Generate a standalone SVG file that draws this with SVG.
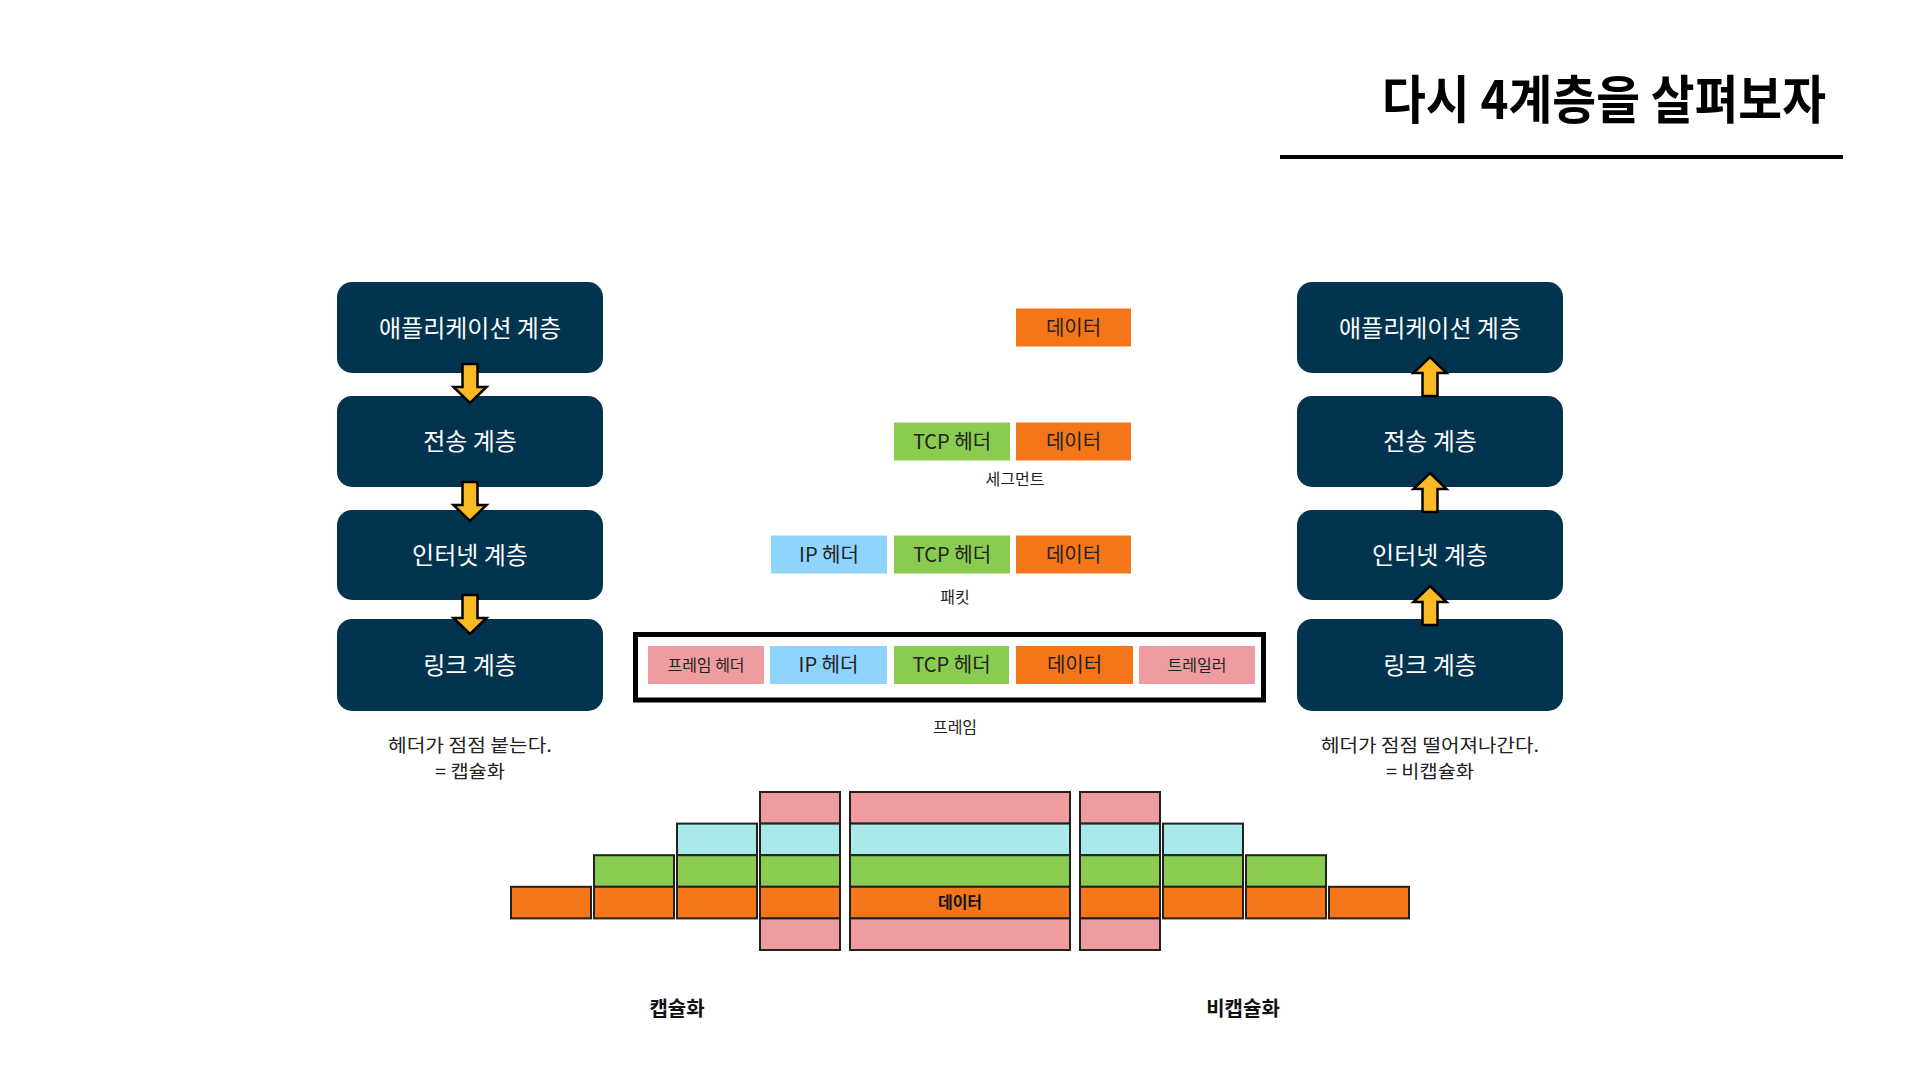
<svg xmlns="http://www.w3.org/2000/svg" xmlns:xlink="http://www.w3.org/1999/xlink" width="1920" height="1080" viewBox="0 0 1920 1080">
<style>
text{font-family:"Noto Sans CJK KR","Noto Sans",sans-serif;}
.layer{fill:#03344F;}
.lt{fill:#FFFFFF;font-size:24px;text-anchor:middle;}
.pk{font-size:20px;fill:#222222;text-anchor:middle;}
.pks{font-size:16px;fill:#222222;text-anchor:middle;}
.lbl{font-size:16px;fill:#222222;text-anchor:middle;}
.cap{font-size:18px;fill:#222222;text-anchor:middle;}
.bl{font-size:20px;font-weight:bold;fill:#111111;text-anchor:middle;}
.arrow{fill:#FBBA22;stroke:#000000;stroke-width:2.5;stroke-linejoin:miter;}
.or{fill:#F47619;}
.gr{fill:#8ACC4F;}
.bu{fill:#8FD4FC;}
.pi{fill:#EE9C9F;}
.c{stroke:#222222;stroke-width:2;}
.cor{fill:#F47619;}
.cgr{fill:#8ACC4F;}
.ccy{fill:#A8E8E8;}
.cpi{fill:#EE9C9F;}
</style>
<defs>
<path id="down" class="arrow" d="M-7.5,0 H7.5 V23 H16.5 L0,39 L-16.5,23 H-7.5 Z"/>
<path id="up" class="arrow" d="M0,0 L16.5,16 H7.5 V39 H-7.5 V16 H-16.5 Z"/>
</defs>
<rect width="1920" height="1080" fill="#FFFFFF"/>

<g id="title">
<text x="1826" y="119" font-size="52" font-weight="bold" fill="#000000" text-anchor="end" textLength="444" lengthAdjust="spacingAndGlyphs">다시 4계층을 살펴보자</text>
<rect x="1280" y="155" width="563" height="4" fill="#000000"/>
</g>

<g id="left-app"><rect class="layer" x="337" y="282" width="266" height="91" rx="15"/><text class="lt" x="470" y="337">애플리케이션 계층</text></g>
<g id="left-transport"><rect class="layer" x="337" y="396" width="266" height="91" rx="15"/><text class="lt" x="470" y="450">전송 계층</text></g>
<g id="left-internet"><rect class="layer" x="337" y="510" width="266" height="90" rx="15"/><text class="lt" x="470" y="564">인터넷 계층</text></g>
<g id="left-link"><rect class="layer" x="337" y="619" width="266" height="92" rx="15"/><text class="lt" x="470" y="674">링크 계층</text></g>

<g id="right-app"><rect class="layer" x="1297" y="282" width="266" height="91" rx="15"/><text class="lt" x="1430" y="337">애플리케이션 계층</text></g>
<g id="right-transport"><rect class="layer" x="1297" y="396" width="266" height="91" rx="15"/><text class="lt" x="1430" y="450">전송 계층</text></g>
<g id="right-internet"><rect class="layer" x="1297" y="510" width="266" height="90" rx="15"/><text class="lt" x="1430" y="564">인터넷 계층</text></g>
<g id="right-link"><rect class="layer" x="1297" y="619" width="266" height="92" rx="15"/><text class="lt" x="1430" y="674">링크 계층</text></g>

<g id="connectors">
<use xlink:href="#down" href="#down" x="470" y="364"/>
<use xlink:href="#down" href="#down" x="470" y="482"/>
<use xlink:href="#down" href="#down" x="470" y="595"/>
<use xlink:href="#up" href="#up" x="1430" y="357"/>
<use xlink:href="#up" href="#up" x="1430" y="473"/>
<use xlink:href="#up" href="#up" x="1430" y="586"/>
</g>

<g id="data-row">
<rect class="or" x="1016" y="308.5" width="115" height="38"/><text class="pk" x="1073.5" y="334.5">데이터</text>
</g>

<g id="segment-row">
<rect class="gr" x="894" y="422.5" width="116" height="38"/><text class="pk" x="952" y="448.5">TCP 헤더</text>
<rect class="or" x="1016" y="422.5" width="115" height="38"/><text class="pk" x="1073.5" y="448.5">데이터</text>
<text class="lbl" x="1015" y="484.5">세그먼트</text>
</g>

<g id="packet-row">
<rect class="bu" x="771" y="535.5" width="116" height="38"/><text class="pk" x="829" y="561.5">IP 헤더</text>
<rect class="gr" x="894" y="535.5" width="116" height="38"/><text class="pk" x="952" y="561.5">TCP 헤더</text>
<rect class="or" x="1016" y="535.5" width="115" height="38"/><text class="pk" x="1073.5" y="561.5">데이터</text>
<text class="lbl" x="955" y="602.5">패킷</text>
</g>

<g id="frame-row">
<rect x="635.5" y="634.5" width="628" height="65.5" fill="none" stroke="#000000" stroke-width="5"/>
<rect class="pi" x="648" y="646" width="116" height="38"/><text class="pks" x="706" y="670.5">프레임 헤더</text>
<rect class="bu" x="770" y="646" width="117" height="38"/><text class="pk" x="828.5" y="672">IP 헤더</text>
<rect class="gr" x="894" y="646" width="115" height="38"/><text class="pk" x="951.5" y="672">TCP 헤더</text>
<rect class="or" x="1016" y="646" width="117" height="38"/><text class="pk" x="1074.5" y="672">데이터</text>
<rect class="pi" x="1139" y="646" width="116" height="38"/><text class="pks" x="1197" y="670.5">트레일러</text>
<text class="lbl" x="955" y="732.5">프레임</text>
</g>

<g id="captions">
<text class="cap" x="470" y="752" textLength="164" lengthAdjust="spacingAndGlyphs">헤더가 점점 붙는다.</text>
<text class="cap" x="470" y="778" textLength="70" lengthAdjust="spacingAndGlyphs">= 캡슐화</text>
<text class="cap" x="1430" y="752" textLength="218" lengthAdjust="spacingAndGlyphs">헤더가 점점 떨어져나간다.</text>
<text class="cap" x="1430" y="778" textLength="88" lengthAdjust="spacingAndGlyphs">= 비캡슐화</text>
</g>

<g id="encap-chart">
<rect class="c cor" x="511" y="886.8" width="80" height="31.6"/>

<rect class="c cgr" x="594" y="855.2" width="80" height="31.6"/>
<rect class="c cor" x="594" y="886.8" width="80" height="31.6"/>

<rect class="c ccy" x="677" y="823.6" width="80" height="31.6"/>
<rect class="c cgr" x="677" y="855.2" width="80" height="31.6"/>
<rect class="c cor" x="677" y="886.8" width="80" height="31.6"/>

<rect class="c cpi" x="760" y="792" width="80" height="31.6"/>
<rect class="c ccy" x="760" y="823.6" width="80" height="31.6"/>
<rect class="c cgr" x="760" y="855.2" width="80" height="31.6"/>
<rect class="c cor" x="760" y="886.8" width="80" height="31.6"/>
<rect class="c cpi" x="760" y="918.4" width="80" height="31.6"/>

<rect class="c cpi" x="850" y="792" width="220" height="31.6"/>
<rect class="c ccy" x="850" y="823.6" width="220" height="31.6"/>
<rect class="c cgr" x="850" y="855.2" width="220" height="31.6"/>
<rect class="c cor" x="850" y="886.8" width="220" height="31.6"/>
<rect class="c cpi" x="850" y="918.4" width="220" height="31.6"/>
<text x="960" y="908" font-size="16" font-weight="bold" fill="#111111" text-anchor="middle">데이터</text>

<rect class="c cpi" x="1080" y="792" width="80" height="31.6"/>
<rect class="c ccy" x="1080" y="823.6" width="80" height="31.6"/>
<rect class="c cgr" x="1080" y="855.2" width="80" height="31.6"/>
<rect class="c cor" x="1080" y="886.8" width="80" height="31.6"/>
<rect class="c cpi" x="1080" y="918.4" width="80" height="31.6"/>

<rect class="c ccy" x="1163" y="823.6" width="80" height="31.6"/>
<rect class="c cgr" x="1163" y="855.2" width="80" height="31.6"/>
<rect class="c cor" x="1163" y="886.8" width="80" height="31.6"/>

<rect class="c cgr" x="1246" y="855.2" width="80" height="31.6"/>
<rect class="c cor" x="1246" y="886.8" width="80" height="31.6"/>

<rect class="c cor" x="1329" y="886.8" width="80" height="31.6"/>
</g>

<g id="chart-labels">
<text class="bl" x="677" y="1016">캡슐화</text>
<text class="bl" x="1243" y="1016">비캡슐화</text>
</g>
</svg>
